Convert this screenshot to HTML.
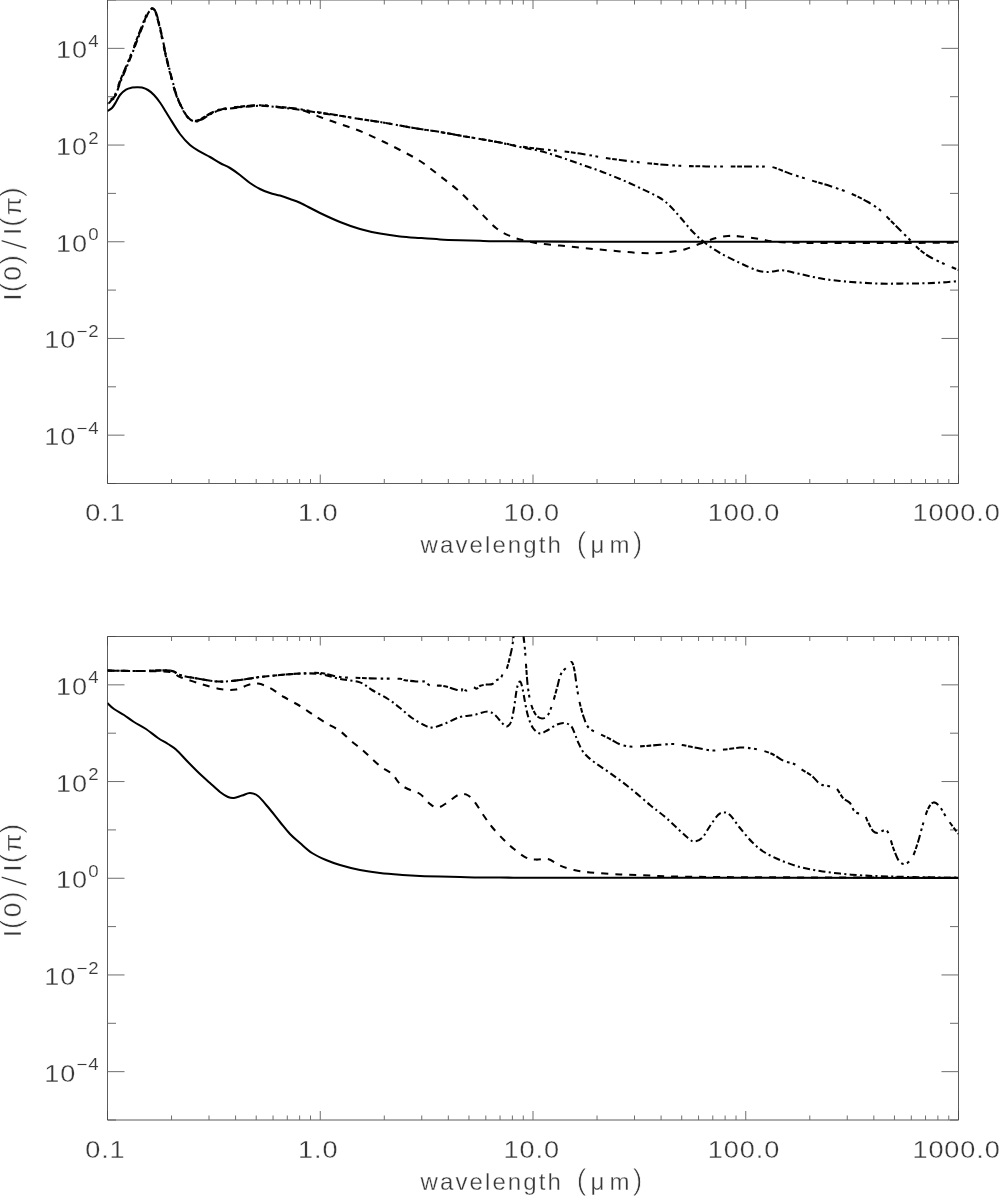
<!DOCTYPE html>
<html><head><meta charset="utf-8"><title>I(0)/I(pi) versus wavelength</title>
<style>
html,body{margin:0;padding:0;background:#fff;}
svg{display:block;}
.t text{font-family:"Liberation Sans","DejaVu Sans",sans-serif;font-size:24px;fill:#383838;stroke:#fff;stroke-width:0.3px;}
.t .sup{font-size:16.5px;stroke-width:0.15px;}
.t .xl{font-size:23px;}
.t .p{font-size:29px;stroke-width:0.8px;}
.t .sl{font-size:36px;stroke-width:1.3px;}
.t .mu{letter-spacing:5px;}
.c path{fill:none;stroke:#000;stroke-width:2.05;stroke-linejoin:round;}
</style></head><body>
<svg width="1000" height="1196" viewBox="0 0 1000 1196">
<rect width="1000" height="1196" fill="#fff"/>
<defs><clipPath id="c1"><rect x="107.5" y="0.0" width="851.0" height="483.5"/></clipPath>
<clipPath id="c2"><rect x="107.5" y="636.5" width="851.0" height="483.5"/></clipPath></defs>
<g stroke="#5c5c5c" stroke-width="1" fill="none">
<path d="M107.50 0.00 H958.50 V483.50 H107.50 Z"/>
</g>
<g stroke="#6e6e6e" stroke-width="1" fill="none">
<path d="M171.54 0.00 v4.5M171.54 483.50 v-4.5M209.01 0.00 v4.5M209.01 483.50 v-4.5M235.59 0.00 v4.5M235.59 483.50 v-4.5M256.21 0.00 v4.5M256.21 483.50 v-4.5M273.05 0.00 v4.5M273.05 483.50 v-4.5M287.29 0.00 v4.5M287.29 483.50 v-4.5M299.63 0.00 v4.5M299.63 483.50 v-4.5M310.52 0.00 v4.5M310.52 483.50 v-4.5M320.25 0.00 v9M320.25 483.50 v-9M384.29 0.00 v4.5M384.29 483.50 v-4.5M421.76 0.00 v4.5M421.76 483.50 v-4.5M448.34 0.00 v4.5M448.34 483.50 v-4.5M468.96 0.00 v4.5M468.96 483.50 v-4.5M485.80 0.00 v4.5M485.80 483.50 v-4.5M500.04 0.00 v4.5M500.04 483.50 v-4.5M512.38 0.00 v4.5M512.38 483.50 v-4.5M523.27 0.00 v4.5M523.27 483.50 v-4.5M533.00 0.00 v9M533.00 483.50 v-9M597.04 0.00 v4.5M597.04 483.50 v-4.5M634.51 0.00 v4.5M634.51 483.50 v-4.5M661.09 0.00 v4.5M661.09 483.50 v-4.5M681.71 0.00 v4.5M681.71 483.50 v-4.5M698.55 0.00 v4.5M698.55 483.50 v-4.5M712.79 0.00 v4.5M712.79 483.50 v-4.5M725.13 0.00 v4.5M725.13 483.50 v-4.5M736.02 0.00 v4.5M736.02 483.50 v-4.5M745.75 0.00 v9M745.75 483.50 v-9M809.79 0.00 v4.5M809.79 483.50 v-4.5M847.26 0.00 v4.5M847.26 483.50 v-4.5M873.84 0.00 v4.5M873.84 483.50 v-4.5M894.46 0.00 v4.5M894.46 483.50 v-4.5M911.30 0.00 v4.5M911.30 483.50 v-4.5M925.54 0.00 v4.5M925.54 483.50 v-4.5M937.88 0.00 v4.5M937.88 483.50 v-4.5M948.77 0.00 v4.5M948.77 483.50 v-4.5M107.50 48.35 h17.0M958.50 48.35 h-17.0M107.50 96.70 h8.5M958.50 96.70 h-8.5M107.50 145.05 h17.0M958.50 145.05 h-17.0M107.50 193.40 h8.5M958.50 193.40 h-8.5M107.50 241.75 h17.0M958.50 241.75 h-17.0M107.50 290.10 h8.5M958.50 290.10 h-8.5M107.50 338.45 h17.0M958.50 338.45 h-17.0M107.50 386.80 h8.5M958.50 386.80 h-8.5M107.50 435.15 h17.0M958.50 435.15 h-17.0"/>
</g>
<g stroke="#444" stroke-width="1" fill="none" stroke-opacity="0.7">
<path d="M107.50 0.00 v9M107.50 483.50 v-9M107.50 0.00 h8.5M107.50 483.50 h8.5M958.50 0.00 v9M958.50 483.50 v-9M958.50 0.00 h-8.5M958.50 483.50 h-8.5"/>
</g>
<g stroke="#5c5c5c" stroke-width="1" fill="none">
<path d="M107.50 636.50 H958.50 V1120.00 H107.50 Z"/>
</g>
<g stroke="#6e6e6e" stroke-width="1" fill="none">
<path d="M171.54 636.50 v4.5M171.54 1120.00 v-4.5M209.01 636.50 v4.5M209.01 1120.00 v-4.5M235.59 636.50 v4.5M235.59 1120.00 v-4.5M256.21 636.50 v4.5M256.21 1120.00 v-4.5M273.05 636.50 v4.5M273.05 1120.00 v-4.5M287.29 636.50 v4.5M287.29 1120.00 v-4.5M299.63 636.50 v4.5M299.63 1120.00 v-4.5M310.52 636.50 v4.5M310.52 1120.00 v-4.5M320.25 636.50 v9M320.25 1120.00 v-9M384.29 636.50 v4.5M384.29 1120.00 v-4.5M421.76 636.50 v4.5M421.76 1120.00 v-4.5M448.34 636.50 v4.5M448.34 1120.00 v-4.5M468.96 636.50 v4.5M468.96 1120.00 v-4.5M485.80 636.50 v4.5M485.80 1120.00 v-4.5M500.04 636.50 v4.5M500.04 1120.00 v-4.5M512.38 636.50 v4.5M512.38 1120.00 v-4.5M523.27 636.50 v4.5M523.27 1120.00 v-4.5M533.00 636.50 v9M533.00 1120.00 v-9M597.04 636.50 v4.5M597.04 1120.00 v-4.5M634.51 636.50 v4.5M634.51 1120.00 v-4.5M661.09 636.50 v4.5M661.09 1120.00 v-4.5M681.71 636.50 v4.5M681.71 1120.00 v-4.5M698.55 636.50 v4.5M698.55 1120.00 v-4.5M712.79 636.50 v4.5M712.79 1120.00 v-4.5M725.13 636.50 v4.5M725.13 1120.00 v-4.5M736.02 636.50 v4.5M736.02 1120.00 v-4.5M745.75 636.50 v9M745.75 1120.00 v-9M809.79 636.50 v4.5M809.79 1120.00 v-4.5M847.26 636.50 v4.5M847.26 1120.00 v-4.5M873.84 636.50 v4.5M873.84 1120.00 v-4.5M894.46 636.50 v4.5M894.46 1120.00 v-4.5M911.30 636.50 v4.5M911.30 1120.00 v-4.5M925.54 636.50 v4.5M925.54 1120.00 v-4.5M937.88 636.50 v4.5M937.88 1120.00 v-4.5M948.77 636.50 v4.5M948.77 1120.00 v-4.5M107.50 684.85 h17.0M958.50 684.85 h-17.0M107.50 733.20 h8.5M958.50 733.20 h-8.5M107.50 781.55 h17.0M958.50 781.55 h-17.0M107.50 829.90 h8.5M958.50 829.90 h-8.5M107.50 878.25 h17.0M958.50 878.25 h-17.0M107.50 926.60 h8.5M958.50 926.60 h-8.5M107.50 974.95 h17.0M958.50 974.95 h-17.0M107.50 1023.30 h8.5M958.50 1023.30 h-8.5M107.50 1071.65 h17.0M958.50 1071.65 h-17.0"/>
</g>
<g stroke="#444" stroke-width="1" fill="none" stroke-opacity="0.7">
<path d="M107.50 636.50 v9M107.50 1120.00 v-9M107.50 636.50 h8.5M107.50 1120.00 h8.5M958.50 636.50 v9M958.50 1120.00 v-9M958.50 636.50 h-8.5M958.50 1120.00 h-8.5"/>
</g>
<g class="c" clip-path="url(#c1)">
<path d="M107.4 111.0C108.2 110.5 110.6 109.5 112.0 108.0C113.4 106.5 114.7 104.2 116.0 102.0C117.3 99.8 118.3 97.1 120.0 95.0C121.7 92.9 124.0 90.8 126.0 89.6C128.0 88.4 130.2 88.0 132.0 87.6C133.8 87.2 135.3 87.2 137.0 87.2C138.7 87.2 140.2 87.1 142.0 87.6C143.8 88.1 146.0 88.8 148.0 90.0C150.0 91.2 152.0 92.9 154.0 95.0C156.0 97.1 158.0 99.7 160.0 102.5C162.0 105.3 164.3 109.3 166.0 112.0C167.7 114.7 167.7 114.8 170.0 118.5C172.3 122.2 176.7 129.6 180.0 134.0C183.3 138.4 186.7 142.1 190.0 145.0C193.3 147.9 196.7 149.6 200.0 151.6C203.3 153.6 206.7 155.1 210.0 157.0C213.3 158.9 216.7 161.2 220.0 163.0C223.3 164.8 226.7 166.0 230.0 168.0C233.3 170.0 236.7 172.5 240.0 175.0C243.3 177.5 246.7 180.7 250.0 183.0C253.3 185.3 256.7 187.3 260.0 189.0C263.3 190.7 266.7 191.9 270.0 193.0C273.3 194.1 276.7 194.6 280.0 195.6C283.3 196.6 286.7 197.8 290.0 199.0C293.3 200.2 295.0 200.4 300.0 202.7C305.0 205.0 313.3 209.8 320.0 213.0C326.7 216.2 333.3 219.3 340.0 222.0C346.7 224.7 353.3 227.1 360.0 229.0C366.7 230.9 373.3 232.4 380.0 233.6C386.7 234.8 393.3 235.7 400.0 236.4C406.7 237.1 413.3 237.5 420.0 238.0C426.7 238.5 433.3 239.0 440.0 239.4C446.7 239.8 453.3 240.0 460.0 240.2C466.7 240.4 473.3 240.6 480.0 240.8C486.7 241.0 483.3 241.0 500.0 241.2C516.7 241.3 550.0 241.6 580.0 241.7C610.0 241.8 616.9 241.8 680.0 241.8C743.1 241.8 912.1 241.8 958.5 241.8"/>
<path d="M107.4 104.4C108.0 103.7 109.7 101.4 111.0 100.0C112.3 98.6 113.5 99.0 115.0 96.0C116.5 93.0 117.5 88.3 120.0 82.0C122.5 75.7 126.7 66.3 130.0 58.0C133.3 49.7 137.2 39.2 140.0 32.0C142.8 24.8 145.3 18.1 147.0 14.5C148.7 10.9 149.1 11.2 150.0 10.2C150.9 9.2 151.5 8.7 152.2 8.6C152.9 8.5 153.4 8.7 154.0 9.4C154.6 10.1 155.0 9.9 156.0 13.0C157.0 16.1 158.3 20.8 160.0 28.0C161.7 35.2 164.0 47.3 166.0 56.0C168.0 64.7 170.3 73.7 172.0 80.0C173.7 86.3 174.3 89.3 176.0 94.0C177.7 98.7 180.0 104.1 182.0 108.0C184.0 111.9 186.0 115.3 188.0 117.5C190.0 119.7 192.0 120.6 194.0 121.0C196.0 121.4 197.3 121.2 200.0 120.0C202.7 118.8 206.7 115.7 210.0 114.0C213.3 112.3 215.0 111.0 220.0 109.8C225.0 108.6 233.3 107.7 240.0 107.0C246.7 106.3 253.3 105.5 260.0 105.5C266.7 105.5 273.3 106.5 280.0 107.2C286.7 107.9 293.3 107.9 300.0 109.5C306.7 111.1 313.3 114.6 320.0 117.0C326.7 119.4 333.3 121.7 340.0 124.0C346.7 126.3 353.3 128.3 360.0 131.0C366.7 133.7 373.3 136.8 380.0 140.0C386.7 143.2 393.3 146.5 400.0 150.0C406.7 153.5 413.3 156.7 420.0 161.0C426.7 165.3 433.3 170.8 440.0 176.0C446.7 181.2 453.3 186.0 460.0 192.0C466.7 198.0 474.0 206.0 480.0 212.0C486.0 218.0 491.0 224.0 496.0 228.0C501.0 232.0 505.3 233.9 510.0 236.0C514.7 238.1 519.0 239.1 524.0 240.4C529.0 241.7 534.0 242.7 540.0 243.6C546.0 244.5 553.3 244.9 560.0 245.6C566.7 246.3 573.3 246.9 580.0 247.6C586.7 248.3 593.3 249.0 600.0 249.6C606.7 250.2 613.3 250.8 620.0 251.4C626.7 252.0 633.3 252.7 640.0 253.0C646.7 253.3 653.3 253.4 660.0 253.0C666.7 252.6 675.7 251.1 680.0 250.4C684.3 249.7 682.3 250.2 686.0 249.0C689.7 247.8 697.0 244.8 702.0 243.0C707.0 241.2 711.7 239.2 716.0 238.0C720.3 236.8 724.0 236.3 728.0 236.0C732.0 235.7 734.7 235.9 740.0 236.4C745.3 236.9 754.3 238.1 760.0 239.0C765.7 239.9 767.3 241.0 774.0 241.6C780.7 242.2 782.3 242.6 800.0 242.8C817.7 243.0 853.6 243.0 880.0 243.0C906.4 243.0 945.4 242.7 958.5 242.6" stroke-dasharray="7 7" stroke-dashoffset="7"/>
<path d="M107.8 104.7C108.3 104.0 110.1 101.7 111.3 100.3C112.6 98.9 113.8 99.3 115.3 96.3C116.8 93.3 117.8 88.6 120.3 82.3C122.8 76.0 127.0 66.6 130.3 58.3C133.7 50.0 137.5 39.5 140.3 32.3C143.2 25.0 145.7 18.4 147.3 14.8C149.0 11.2 149.5 11.5 150.3 10.5C151.2 9.5 151.9 9.0 152.5 8.9C153.2 8.8 153.7 9.0 154.3 9.7C155.0 10.4 155.3 10.2 156.3 13.3C157.3 16.4 158.7 21.1 160.3 28.3C162.0 35.5 164.3 47.6 166.3 56.3C168.3 65.0 170.7 74.0 172.3 80.3C174.0 86.6 174.7 89.6 176.3 94.3C178.0 99.0 180.3 104.4 182.3 108.3C184.3 112.2 186.3 115.6 188.3 117.8C190.3 120.0 192.3 120.9 194.3 121.3C196.3 121.7 197.7 121.5 200.3 120.3C203.0 119.1 207.0 116.0 210.3 114.3C213.7 112.6 215.3 111.3 220.3 110.1C225.3 108.9 233.7 108.0 240.3 107.3C247.0 106.6 253.7 105.8 260.4 105.8C267.0 105.8 273.7 106.8 280.4 107.5C287.0 108.2 293.7 108.9 300.4 109.8C307.0 110.7 313.4 112.0 320.0 113.0C326.6 114.0 333.3 114.8 340.0 115.8C346.7 116.8 353.3 118.0 360.0 119.0C366.7 120.0 373.3 120.9 380.0 122.0C386.7 123.1 393.3 124.4 400.0 125.6C406.7 126.8 413.3 127.9 420.0 129.0C426.7 130.1 433.3 130.9 440.0 132.0C446.7 133.1 453.3 134.4 460.0 135.6C466.7 136.8 473.3 137.8 480.0 139.0C486.7 140.2 493.3 141.3 500.0 142.6C506.7 143.9 513.3 145.6 520.0 147.0C526.7 148.4 533.3 149.3 540.0 151.0C546.7 152.7 553.3 154.8 560.0 157.0C566.7 159.2 573.3 161.7 580.0 164.0C586.7 166.3 593.3 168.5 600.0 171.0C606.7 173.5 613.3 176.2 620.0 179.0C626.7 181.8 633.3 184.8 640.0 188.0C646.7 191.2 655.0 195.0 660.0 198.0C665.0 201.0 666.7 202.8 670.0 206.0C673.3 209.2 676.3 212.8 680.0 217.0C683.7 221.2 688.0 226.8 692.0 231.0C696.0 235.2 699.3 238.3 704.0 242.0C708.7 245.7 714.0 249.5 720.0 253.0C726.0 256.5 734.0 260.2 740.0 263.0C746.0 265.8 751.7 268.5 756.0 270.0C760.3 271.5 762.7 271.8 766.0 272.0C769.3 272.2 773.0 271.3 776.0 271.0C779.0 270.7 780.0 269.9 784.0 270.4C788.0 270.9 794.0 272.7 800.0 274.0C806.0 275.3 813.3 277.1 820.0 278.3C826.7 279.5 833.3 280.3 840.0 281.0C846.7 281.7 853.3 282.2 860.0 282.6C866.7 283.0 873.3 283.4 880.0 283.6C886.7 283.8 893.3 283.6 900.0 283.6C906.7 283.6 913.3 283.6 920.0 283.4C926.7 283.2 933.6 283.0 940.0 282.6C946.4 282.2 955.4 281.4 958.5 281.2" stroke-dasharray="7 3.3 2.1 3.3" stroke-dashoffset="-1.8"/>
<path d="M107.1 104.1C107.7 103.4 109.4 101.1 110.7 99.7C111.9 98.3 113.2 98.7 114.7 95.7C116.2 92.7 117.2 88.0 119.7 81.7C122.2 75.4 126.3 66.0 129.7 57.7C133.0 49.4 136.8 39.0 139.7 31.7C142.5 24.4 145.0 17.8 146.7 14.2C148.3 10.6 148.8 10.9 149.7 9.9C150.5 8.9 151.2 8.4 151.8 8.3C152.5 8.2 153.0 8.4 153.7 9.1C154.3 9.8 154.7 9.6 155.7 12.7C156.7 15.8 158.0 20.5 159.7 27.7C161.3 34.9 163.7 47.0 165.7 55.7C167.7 64.4 170.0 73.4 171.7 79.7C173.3 86.0 174.0 89.0 175.7 93.7C177.3 98.4 179.7 103.8 181.7 107.7C183.7 111.6 185.7 115.0 187.7 117.2C189.7 119.4 191.7 120.3 193.7 120.7C195.7 121.1 197.0 120.9 199.7 119.7C202.3 118.5 206.3 115.4 209.7 113.7C213.0 112.0 214.7 110.7 219.7 109.5C224.7 108.3 233.0 107.4 239.7 106.7C246.3 106.0 253.0 105.2 259.6 105.2C266.3 105.2 273.0 106.2 279.6 106.9C286.3 107.6 292.9 108.2 299.6 109.2C306.4 110.2 313.3 111.5 320.0 112.6C326.7 113.7 333.3 114.5 340.0 115.6C346.7 116.7 353.3 117.9 360.0 119.0C366.7 120.1 373.3 120.9 380.0 122.0C386.7 123.1 393.3 124.4 400.0 125.6C406.7 126.8 413.3 127.9 420.0 129.0C426.7 130.1 433.3 130.9 440.0 132.0C446.7 133.1 453.3 134.4 460.0 135.6C466.7 136.8 473.3 137.9 480.0 139.0C486.7 140.1 493.3 141.2 500.0 142.4C506.7 143.6 513.3 145.3 520.0 146.4C526.7 147.5 533.3 148.2 540.0 149.0C546.7 149.8 553.3 150.2 560.0 151.0C566.7 151.8 573.3 152.6 580.0 153.6C586.7 154.6 593.3 155.9 600.0 157.0C606.7 158.1 613.3 159.1 620.0 160.0C626.7 160.9 633.3 161.7 640.0 162.4C646.7 163.1 653.3 163.8 660.0 164.4C666.7 165.0 673.3 165.5 680.0 165.8C686.7 166.1 693.3 166.2 700.0 166.3C706.7 166.4 710.0 166.6 720.0 166.6C730.0 166.6 751.3 166.5 760.0 166.6C768.7 166.7 767.0 165.8 772.0 167.0C777.0 168.2 783.3 171.3 790.0 173.6C796.7 175.9 805.3 178.5 812.0 180.6C818.7 182.7 823.3 183.8 830.0 186.0C836.7 188.2 845.7 191.3 852.0 194.0C858.3 196.7 863.3 199.3 868.0 202.0C872.7 204.7 876.3 207.0 880.0 210.0C883.7 213.0 886.7 216.7 890.0 220.0C893.3 223.3 896.7 226.7 900.0 230.0C903.3 233.3 906.7 236.7 910.0 240.0C913.3 243.3 916.7 247.2 920.0 250.0C923.3 252.8 926.7 255.0 930.0 257.0C933.3 259.0 936.7 260.4 940.0 262.0C943.3 263.6 946.9 265.1 950.0 266.4C953.1 267.7 957.1 269.4 958.5 270.0" stroke-dasharray="4.7 1.7 4.7 2 8 4 2.6 3.5 2.8 7.8" stroke-dashoffset="19.3"/>
</g>
<g class="c" clip-path="url(#c2)">
<path d="M107.4 703.0C108.5 704.0 111.2 707.0 114.0 709.0C116.8 711.0 120.7 712.8 124.0 715.0C127.3 717.2 130.3 719.7 134.0 722.0C137.7 724.3 142.0 726.3 146.0 729.0C150.0 731.7 154.3 735.5 158.0 738.0C161.7 740.5 165.0 742.1 168.0 744.0C171.0 745.9 172.7 746.5 176.0 749.5C179.3 752.5 184.0 757.9 188.0 762.0C192.0 766.1 196.3 770.5 200.0 774.0C203.7 777.5 206.7 780.0 210.0 783.0C213.3 786.0 217.0 789.7 220.0 792.0C223.0 794.3 225.7 796.0 228.0 797.0C230.3 798.0 231.7 798.2 234.0 798.0C236.3 797.8 239.3 796.4 242.0 795.6C244.7 794.8 247.3 792.9 250.0 793.0C252.7 793.1 255.0 793.7 258.0 796.0C261.0 798.3 264.3 802.7 268.0 807.0C271.7 811.3 276.3 817.5 280.0 822.0C283.7 826.5 286.7 830.5 290.0 834.0C293.3 837.5 296.3 839.8 300.0 843.0C303.7 846.2 307.7 850.2 312.0 853.0C316.3 855.8 321.3 858.0 326.0 860.0C330.7 862.0 334.3 863.3 340.0 865.0C345.7 866.7 353.3 868.7 360.0 870.0C366.7 871.3 373.3 872.2 380.0 873.0C386.7 873.8 393.3 874.3 400.0 874.8C406.7 875.3 410.0 875.6 420.0 876.0C430.0 876.4 446.7 876.7 460.0 877.0C473.3 877.3 476.7 877.5 500.0 877.6C523.3 877.7 523.6 877.8 600.0 877.8C676.4 877.8 898.8 877.9 958.5 877.9"/>
<path d="M107.4 670.6C112.8 670.7 129.6 670.8 140.0 671.0C150.4 671.2 163.3 671.0 170.0 672.0C176.7 673.0 175.0 675.1 180.0 677.0C185.0 678.9 193.3 681.6 200.0 683.6C206.7 685.6 214.0 688.0 220.0 689.0C226.0 690.0 231.3 690.3 236.0 689.6C240.7 688.9 244.3 686.0 248.0 685.0C251.7 684.0 254.3 683.1 258.0 683.6C261.7 684.1 265.7 685.8 270.0 688.0C274.3 690.2 279.0 694.0 284.0 697.0C289.0 700.0 295.3 703.2 300.0 706.0C304.7 708.8 307.7 711.2 312.0 714.0C316.3 716.8 321.3 720.2 326.0 723.0C330.7 725.8 336.0 728.2 340.0 731.0C344.0 733.8 346.7 737.2 350.0 740.0C353.3 742.8 357.0 745.5 360.0 748.0C363.0 750.5 364.7 752.0 368.0 755.0C371.3 758.0 376.0 762.8 380.0 766.0C384.0 769.2 388.7 771.0 392.0 774.0C395.3 777.0 397.3 781.5 400.0 784.0C402.7 786.5 404.7 787.3 408.0 789.0C411.3 790.7 416.3 791.5 420.0 794.0C423.7 796.5 427.0 801.7 430.0 804.0C433.0 806.3 435.0 807.9 438.0 807.6C441.0 807.3 444.7 804.1 448.0 802.0C451.3 799.9 455.0 796.3 458.0 795.0C461.0 793.7 463.3 793.4 466.0 794.4C468.7 795.4 471.0 797.4 474.0 801.0C477.0 804.6 481.0 811.7 484.0 816.0C487.0 820.3 488.7 823.0 492.0 827.0C495.3 831.0 500.3 836.3 504.0 840.0C507.7 843.7 510.3 846.1 514.0 849.0C517.7 851.9 522.3 855.8 526.0 857.6C529.7 859.4 532.3 859.4 536.0 859.6C539.7 859.8 544.0 858.0 548.0 859.0C552.0 860.0 555.7 863.8 560.0 865.6C564.3 867.4 569.0 868.9 574.0 870.0C579.0 871.1 582.3 871.7 590.0 872.4C597.7 873.1 610.0 873.9 620.0 874.4C630.0 874.9 640.0 875.2 650.0 875.6C660.0 876.0 661.7 876.3 680.0 876.6C698.3 876.9 713.6 877.1 760.0 877.3C806.4 877.5 925.4 877.6 958.5 877.7" stroke-dasharray="7 7"/>
<path d="M107.4 670.6C112.8 670.7 129.6 671.0 140.0 671.0C150.4 671.0 163.3 669.9 170.0 670.6C176.7 671.3 175.0 673.6 180.0 675.0C185.0 676.4 193.3 677.9 200.0 679.0C206.7 680.1 213.3 681.4 220.0 681.6C226.7 681.8 233.3 680.8 240.0 680.0C246.7 679.2 253.3 677.8 260.0 677.0C266.7 676.2 273.3 675.6 280.0 675.0C286.7 674.4 293.3 673.8 300.0 673.6C306.7 673.4 313.3 673.1 320.0 674.0C326.7 674.9 333.3 677.6 340.0 679.0C346.7 680.4 354.7 680.6 360.0 682.4C365.3 684.2 367.3 687.2 372.0 690.0C376.7 692.8 383.3 696.0 388.0 699.0C392.7 702.0 396.0 704.8 400.0 708.0C404.0 711.2 408.0 715.2 412.0 718.0C416.0 720.8 420.7 723.4 424.0 725.0C427.3 726.6 428.7 727.8 432.0 727.6C435.3 727.4 439.3 725.8 444.0 724.0C448.7 722.2 455.0 718.5 460.0 717.0C465.0 715.5 469.3 715.9 474.0 715.0C478.7 714.1 484.3 711.4 488.0 711.6C491.7 711.8 493.7 714.1 496.0 716.0C498.3 717.9 500.2 721.3 502.0 723.0C503.8 724.7 505.5 726.6 507.0 726.4C508.5 726.2 509.8 725.1 511.0 722.0C512.2 718.9 513.0 713.7 514.0 708.0C515.0 702.3 516.0 692.4 517.0 688.0C518.0 683.6 519.1 681.6 520.0 681.6C520.9 681.6 521.6 684.6 522.4 688.0C523.2 691.4 524.1 697.3 525.0 702.0C525.9 706.7 526.7 711.7 528.0 716.0C529.3 720.3 531.0 725.1 533.0 728.0C535.0 730.9 537.5 733.1 540.0 733.4C542.5 733.7 545.3 731.4 548.0 730.0C550.7 728.6 553.3 726.2 556.0 725.0C558.7 723.8 561.5 722.8 564.0 723.0C566.5 723.2 569.2 724.2 571.0 726.0C572.8 727.8 573.8 731.3 575.0 734.0C576.2 736.7 576.5 738.8 578.0 742.0C579.5 745.2 581.3 749.7 584.0 753.0C586.7 756.3 589.7 758.7 594.0 762.0C598.3 765.3 604.0 768.7 610.0 773.0C616.0 777.3 623.3 782.7 630.0 788.0C636.7 793.3 644.3 800.3 650.0 805.0C655.7 809.7 659.7 812.3 664.0 816.0C668.3 819.7 672.0 823.3 676.0 827.0C680.0 830.7 685.0 835.6 688.0 838.0C691.0 840.4 691.7 841.4 694.0 841.4C696.3 841.4 699.3 840.6 702.0 838.0C704.7 835.4 707.3 829.8 710.0 826.0C712.7 822.2 715.7 817.3 718.0 815.0C720.3 812.7 722.0 812.4 724.0 812.4C726.0 812.4 727.3 812.4 730.0 815.0C732.7 817.6 736.3 823.5 740.0 828.0C743.7 832.5 748.0 838.0 752.0 842.0C756.0 846.0 759.3 849.0 764.0 852.0C768.7 855.0 774.0 857.5 780.0 860.0C786.0 862.5 793.3 865.2 800.0 867.0C806.7 868.8 813.3 869.9 820.0 871.0C826.7 872.1 833.3 872.9 840.0 873.6C846.7 874.3 853.3 874.9 860.0 875.3C866.7 875.7 870.0 875.9 880.0 876.2C890.0 876.5 906.9 877.0 920.0 877.2C933.1 877.4 952.1 877.5 958.5 877.6" stroke-dasharray="7 3.3 2.1 3.3"/>
<path d="M107.4 670.6C112.8 670.7 129.6 671.0 140.0 671.0C150.4 671.0 163.3 669.9 170.0 670.6C176.7 671.3 175.0 673.6 180.0 675.0C185.0 676.4 193.3 677.9 200.0 679.0C206.7 680.1 213.3 681.4 220.0 681.6C226.7 681.8 233.3 680.8 240.0 680.0C246.7 679.2 253.3 677.8 260.0 677.0C266.7 676.2 273.3 675.6 280.0 675.0C286.7 674.4 293.3 673.9 300.0 673.6C306.7 673.3 313.3 672.4 320.0 673.0C326.7 673.6 333.3 676.2 340.0 677.0C346.7 677.8 353.3 677.7 360.0 678.0C366.7 678.3 373.3 678.5 380.0 678.6C386.7 678.7 395.8 678.5 400.0 678.8C404.2 679.1 402.3 679.8 405.0 680.2C407.7 680.6 412.7 681.2 416.0 681.4C419.3 681.6 423.0 681.1 425.0 681.6C427.0 682.1 427.3 683.8 428.2 684.4C429.1 685.0 429.7 685.5 430.6 685.4C431.5 685.3 432.5 684.0 433.6 684.0C434.7 684.0 435.8 685.1 437.2 685.4C438.6 685.7 440.2 685.5 442.0 685.8C443.8 686.1 446.2 686.5 448.0 687.0C449.8 687.5 451.2 688.2 453.0 688.8C454.8 689.4 457.6 690.0 459.0 690.4C460.4 690.8 460.7 691.4 461.4 691.0C462.1 690.6 462.2 687.9 463.0 687.8C463.8 687.7 464.9 690.4 466.0 690.6C467.1 690.8 468.4 689.4 469.6 688.8C470.8 688.2 472.0 687.0 473.2 687.0C474.4 687.0 475.6 688.8 476.8 688.6C478.0 688.4 478.8 686.5 480.4 685.8C482.0 685.1 484.4 684.9 486.4 684.6C488.4 684.3 490.8 684.7 492.4 684.0C494.0 683.3 494.6 681.4 496.0 680.4C497.4 679.4 499.6 679.3 500.8 678.0C502.0 676.7 502.3 674.0 503.2 672.8C504.1 671.6 505.3 672.1 506.0 671.0C506.7 669.9 507.1 667.8 507.6 666.0C508.1 664.2 508.5 663.0 509.2 660.0C509.9 657.0 511.3 651.9 512.0 648.0C512.7 644.1 513.1 640.1 513.6 636.4C514.1 632.7 514.8 627.7 515.0 626.0" stroke-dasharray="4.7 1.7 4.7 2 8 4 2.6 3.5 2.8 7.8"/>
<path d="M522.5 626.0C522.7 627.7 523.2 632.4 523.6 636.4C524.0 640.4 524.5 644.4 525.0 650.0C525.5 655.6 525.9 663.7 526.4 670.0C526.9 676.3 527.2 682.3 528.0 688.0C528.8 693.7 529.7 699.5 531.0 704.0C532.3 708.5 534.2 712.6 536.0 715.0C537.8 717.4 540.0 718.4 542.0 718.4C544.0 718.4 546.2 717.7 548.0 715.0C549.8 712.3 551.5 706.5 553.0 702.0C554.5 697.5 555.7 692.7 557.0 688.0C558.3 683.3 559.3 677.5 561.0 674.0C562.7 670.5 565.2 669.0 567.0 667.0C568.8 665.0 570.4 661.5 571.6 662.0C572.8 662.5 573.5 665.7 574.4 670.0C575.3 674.3 576.1 682.3 577.0 688.0C577.9 693.7 578.8 699.0 580.0 704.0C581.2 709.0 582.5 714.0 584.0 718.0C585.5 722.0 586.3 725.3 589.0 728.0C591.7 730.7 596.5 732.2 600.0 734.0C603.5 735.8 606.7 737.3 610.0 739.0C613.3 740.7 616.7 743.1 620.0 744.4C623.3 745.7 626.7 746.3 630.0 746.6C633.3 746.9 635.0 746.7 640.0 746.4C645.0 746.1 654.7 745.2 660.0 744.8C665.3 744.4 668.3 744.0 672.0 744.0C675.7 744.0 677.3 744.2 682.0 745.0C686.7 745.8 695.0 747.7 700.0 748.6C705.0 749.5 708.0 750.2 712.0 750.4C716.0 750.6 719.3 750.1 724.0 749.6C728.7 749.1 735.3 747.8 740.0 747.6C744.7 747.4 748.0 747.8 752.0 748.4C756.0 749.0 760.3 749.9 764.0 751.0C767.7 752.1 770.7 753.3 774.0 755.0C777.3 756.7 780.7 759.5 784.0 761.0C787.3 762.5 791.0 762.6 794.0 764.0C797.0 765.4 799.0 767.6 802.0 769.6C805.0 771.6 809.0 773.6 812.0 776.0C815.0 778.4 817.3 782.3 820.0 784.0C822.7 785.7 825.3 785.3 828.0 786.0C830.7 786.7 833.5 786.0 836.0 788.0C838.5 790.0 840.7 795.5 843.0 798.0C845.3 800.5 848.0 800.7 850.0 803.0C852.0 805.3 852.7 810.0 855.0 812.0C857.3 814.0 861.8 813.3 864.0 815.0C866.2 816.7 866.5 819.3 868.0 822.0C869.5 824.7 871.3 829.2 873.0 831.0C874.7 832.8 875.8 833.2 878.0 833.0C880.2 832.8 884.0 829.2 886.0 830.0C888.0 830.8 888.7 834.7 890.0 838.0C891.3 841.3 892.5 846.2 894.0 850.0C895.5 853.8 897.2 858.7 899.0 861.0C900.8 863.3 902.8 864.5 905.0 864.0C907.2 863.5 909.8 861.7 912.0 858.0C914.2 854.3 916.2 847.7 918.0 842.0C919.8 836.3 921.3 829.5 923.0 824.0C924.7 818.5 926.2 812.6 928.0 809.0C929.8 805.4 931.6 802.7 933.6 802.4C935.6 802.1 937.6 804.1 940.0 807.0C942.4 809.9 944.9 815.5 948.0 820.0C951.1 824.5 956.8 831.7 958.5 834.0" stroke-dasharray="4.7 1.7 4.7 2 8 4 2.6 3.5 2.8 7.8" stroke-dashoffset="4"/>
</g>
<g class="t">
<text transform="translate(99.5 58.4) scale(1.130 1)" text-anchor="end" letter-spacing="0.80">10<tspan class="sup" dy="-11.5" dx="0.2">4</tspan></text>
<text transform="translate(99.5 155.1) scale(1.130 1)" text-anchor="end" letter-spacing="0.80">10<tspan class="sup" dy="-11.5" dx="0.2">2</tspan></text>
<text transform="translate(99.5 251.8) scale(1.130 1)" text-anchor="end" letter-spacing="0.80">10<tspan class="sup" dy="-11.5" dx="0.2">0</tspan></text>
<text transform="translate(99.5 348.4) scale(1.130 1)" text-anchor="end" letter-spacing="0.80">10<tspan class="sup" dy="-11.5" dx="0.2">−2</tspan></text>
<text transform="translate(99.5 445.2) scale(1.130 1)" text-anchor="end" letter-spacing="0.80">10<tspan class="sup" dy="-11.5" dx="0.2">−4</tspan></text>
<text transform="translate(85.2 521.0) scale(1.130 1)" text-anchor="start" letter-spacing="0.80">0.1</text>
<text transform="translate(298.0 521.0) scale(1.130 1)" text-anchor="start" letter-spacing="0.80">1.0</text>
<text transform="translate(503.6 521.0) scale(1.130 1)" text-anchor="start" letter-spacing="0.80">10.0</text>
<text transform="translate(707.8 521.0) scale(1.130 1)" text-anchor="start" letter-spacing="0.80">100.0</text>
<text transform="translate(912.4 521.0) scale(1.130 1)" text-anchor="start" letter-spacing="0.80">1000.0</text>
<text transform="translate(420.5 553.0) scale(1.045 1)" letter-spacing="2" class="xl">wavelength<tspan class="p" x="149.4">(</tspan><tspan x="162.7" class="mu">μm</tspan><tspan class="p" x="202.8">)</tspan></text>
<text transform="translate(21 300.2) rotate(-90) scale(1.10 1)" text-anchor="middle" class="yl"><tspan x="2.9">I</tspan><tspan x="11.5" class="p">(</tspan><tspan x="24.4">0</tspan><tspan x="36.7" class="p">)</tspan><tspan x="50.7" class="sl" dy="6">/</tspan><tspan x="62.5" dy="-6">I</tspan><tspan x="71.2" class="p">(</tspan><tspan x="85.4">π</tspan><tspan x="98.2" class="p">)</tspan></text>
</g>
<g class="t">
<text transform="translate(99.5 694.9) scale(1.130 1)" text-anchor="end" letter-spacing="0.80">10<tspan class="sup" dy="-11.5" dx="0.2">4</tspan></text>
<text transform="translate(99.5 791.5) scale(1.130 1)" text-anchor="end" letter-spacing="0.80">10<tspan class="sup" dy="-11.5" dx="0.2">2</tspan></text>
<text transform="translate(99.5 888.2) scale(1.130 1)" text-anchor="end" letter-spacing="0.80">10<tspan class="sup" dy="-11.5" dx="0.2">0</tspan></text>
<text transform="translate(99.5 985.0) scale(1.130 1)" text-anchor="end" letter-spacing="0.80">10<tspan class="sup" dy="-11.5" dx="0.2">−2</tspan></text>
<text transform="translate(99.5 1081.7) scale(1.130 1)" text-anchor="end" letter-spacing="0.80">10<tspan class="sup" dy="-11.5" dx="0.2">−4</tspan></text>
<text transform="translate(85.2 1157.5) scale(1.130 1)" text-anchor="start" letter-spacing="0.80">0.1</text>
<text transform="translate(298.0 1157.5) scale(1.130 1)" text-anchor="start" letter-spacing="0.80">1.0</text>
<text transform="translate(503.6 1157.5) scale(1.130 1)" text-anchor="start" letter-spacing="0.80">10.0</text>
<text transform="translate(707.8 1157.5) scale(1.130 1)" text-anchor="start" letter-spacing="0.80">100.0</text>
<text transform="translate(912.4 1157.5) scale(1.130 1)" text-anchor="start" letter-spacing="0.80">1000.0</text>
<text transform="translate(420.5 1189.5) scale(1.045 1)" letter-spacing="2" class="xl">wavelength<tspan class="p" x="149.4">(</tspan><tspan x="162.7" class="mu">μm</tspan><tspan class="p" x="202.8">)</tspan></text>
<text transform="translate(21 936.8) rotate(-90) scale(1.10 1)" text-anchor="middle" class="yl"><tspan x="2.9">I</tspan><tspan x="11.5" class="p">(</tspan><tspan x="24.4">0</tspan><tspan x="36.7" class="p">)</tspan><tspan x="50.7" class="sl" dy="6">/</tspan><tspan x="62.5" dy="-6">I</tspan><tspan x="71.2" class="p">(</tspan><tspan x="85.4">π</tspan><tspan x="98.2" class="p">)</tspan></text>
</g>
</svg></body></html>
